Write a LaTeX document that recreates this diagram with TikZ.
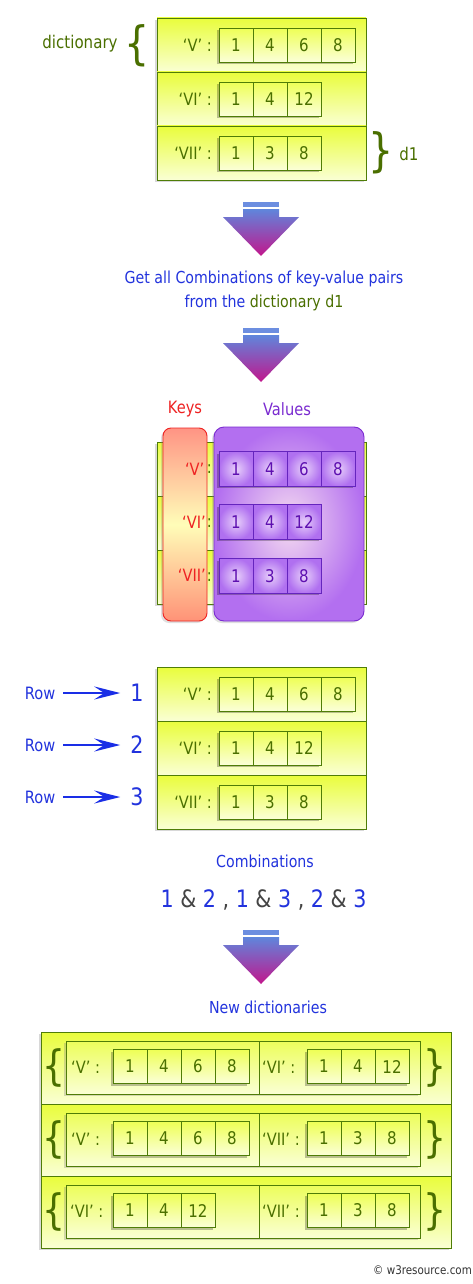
\documentclass[tikz,border=0pt]{standalone}
\usepackage{fontspec}
\setmainfont{DejaVu Sans}[FakeStretch=0.86]
\usetikzlibrary{shadows,calc,arrows.meta}
\definecolor{ytop}{HTML}{E9FD3C}
\definecolor{ybot}{HTML}{FAFFD4}
\definecolor{ctop}{HTML}{EEFF55}
\definecolor{cbot}{HTML}{FBFFD8}
\definecolor{bord}{HTML}{4F7D07}
\definecolor{tgreen}{HTML}{4A6F00}
\definecolor{tblue}{HTML}{2233DD}
\definecolor{arrtop}{HTML}{5F86DC}
\definecolor{arrbot}{HTML}{C2168C}
\definecolor{arrbar}{HTML}{6C8EE0}
\definecolor{kred}{HTML}{EE2222}
\definecolor{ktop}{HTML}{FF9484}
\definecolor{kmid}{HTML}{FFFDB8}
\definecolor{vpurple}{HTML}{7A2BD0}
\definecolor{vin}{HTML}{F5DCF0}
\definecolor{vout}{HTML}{B36FF0}
\definecolor{cpin}{HTML}{E8D0FA}
\definecolor{cpout}{HTML}{B070F0}
\definecolor{cpbord}{HTML}{6525BE}
\definecolor{cptext}{HTML}{5E10B0}
\definecolor{dgray}{HTML}{444444}
\definecolor{rowblue}{HTML}{1A2EE6}
\tikzset{
  fs/.style={font=\fontsize{#1}{#1}\selectfont},
  rowbox/.style={draw=bord, line width=0.8pt, top color=ytop, bottom color=ybot,
    minimum width=209pt, minimum height=54pt, anchor=north west, inner sep=0pt, outer sep=0pt,
    drop shadow={shadow xshift=-2pt, shadow yshift=-2pt, opacity=0.3}},
  cell/.style={draw=bord, line width=0.7pt, top color=ctop, bottom color=cbot,
    minimum width=34pt, minimum height=34pt, inner sep=0pt, outer sep=0pt, anchor=west,
    text=tgreen, fs=17.5},
  pcell/.style={draw=cpbord, line width=0.7pt, inner color=cpin, outer color=cpout,
    minimum width=34pt, minimum height=35pt, inner sep=0pt, outer sep=0pt, anchor=west,
    text=cptext, fs=17.5},
  keylab/.style={anchor=east, inner sep=0pt, text=tgreen, fs=17},
  keylabw/.style={anchor=west, inner sep=0pt, text=tgreen, fs=17},
  brc/.style={inner sep=0pt, text=tgreen, fs=46},
  brcs/.style={inner sep=0pt, text=tgreen, fs=42},
  bluetext/.style={text=tblue, fs=16.5, inner sep=0pt},
  cellshadow/.style={fill=black, opacity=0.25},
  rowarr/.style={draw=rowblue, line width=2.5pt, -{Stealth[length=26pt,width=13pt,inset=10pt]}},
  bigrow/.style={draw=bord, line width=0.8pt, top color=ytop, bottom color=ybot,
    minimum width=410pt, minimum height=72pt, anchor=north west, inner sep=0pt, outer sep=0pt,
    drop shadow={shadow xshift=-2pt, shadow yshift=-2pt, opacity=0.3}},
  inbox/.style={draw=bord, line width=0.8pt, top color=ytop!80!ybot, bottom color=ybot,
    minimum height=53pt, anchor=north west, inner sep=0pt, outer sep=0pt,
    drop shadow={shadow xshift=-2pt, shadow yshift=-2pt, opacity=0.3}},
}
% #1 style, #2 prefix, #3 start coordinate, #4 number of cells, #5 values
\newcommand\mycellrow[5]{%
  \coordinate (#2s) at #3;
  \fill[cellshadow] ($(#2s)+(-2,-15)$) rectangle ($(#2s)+(#4*34-2,19)$);
  \foreach \v [count=\i] in {#5} {\node[#1] (#2\i) at ($(#2s)+(\i*34-34,0)$) {\v};}
}
\newcommand\mydict[3]{%
  \node[rowbox] (#3r1) at (#1,#2) {};
  \node[rowbox] (#3r2) at (#1,#2+54) {};
  \node[rowbox] (#3r3) at (#1,#2+108) {};
  \node[keylab] (#3k1) at ($(#3r1.west)+(55,0)$) {`V' :};
  \node[keylab] (#3k2) at ($(#3r2.west)+(55,0)$) {`VI' :};
  \node[keylab] (#3k3) at ($(#3r3.west)+(55,0)$) {`VII' :};
  \mycellrow{cell}{#3a}{($(#3r1.west)+(62,0)$)}{4}{1,4,6,8}
  \mycellrow{cell}{#3b}{($(#3r2.west)+(62,0)$)}{3}{1,4,12}
  \mycellrow{cell}{#3c}{($(#3r3.west)+(62,0)$)}{3}{1,3,8}
}
\newcommand\mydownarrow[1]{%
  \begin{scope}[shift={(0,#1)}]
    \fill[arrbar] (243,0) rectangle (279,4.5);
    \shade[top color=arrtop, bottom color=arrbot] (243,7) -- (279,7) -- (279,15) -- (299,15)
      -- (261,54) -- (223,15) -- (243,15) -- cycle;
  \end{scope}}
\begin{document}
\begin{tikzpicture}[x=1pt,y=-1pt]
\useasboundingbox[fill=white] (0,0) rectangle (473,1284);

% ---------- top dictionary ----------
\mydict{157}{18}{t}
\node[text=tgreen, fs=17.5, inner sep=0pt] (dictlab) at (80,44) {dictionary};
\node[brc] (tbl) at (137,46) {\{};
\node[brc] (tbr) at (381,153) {\}};
\node[text=tgreen, fs=17.5, inner sep=0pt] (d1) at (409,154) {d1};

% ---------- arrow 1 + text ----------
\mydownarrow{202}
\node[bluetext] (t1) at (264,279) {Get all Combinations of key-value pairs};
\node[bluetext] (t2) at (264,303) {from the \textcolor{tgreen}{dictionary d1}};
\mydownarrow{328}

% ---------- keys / values ----------
\node[rowbox] (br1) at (157,442) {};
\node[rowbox] (br2) at (157,496) {};
\node[rowbox] (br3) at (157,550) {};
\node[keylab] (bc1) at ($(br1.west)+(55,0)$) {:};
\node[keylab] (bc2) at ($(br2.west)+(55,0)$) {:};
\node[keylab] (bc3) at ($(br3.west)+(55,0)$) {:};
\node[draw=kred, line width=0.9pt, rounded corners=8pt, top color=ktop, bottom color=ktop!90!orange,
  middle color=kmid, minimum width=44pt, minimum height=193pt, inner sep=0pt,
  drop shadow={shadow xshift=-2pt, shadow yshift=-2pt, opacity=0.25}] (keys) at (185,524.5) {};
\node[draw=vpurple, line width=0.9pt, rounded corners=10pt, inner color=vin, outer color=vout,
  minimum width=150pt, minimum height=194pt, inner sep=0pt,
  drop shadow={shadow xshift=-2pt, shadow yshift=-2pt, opacity=0.25}] (vals) at (289,524) {};
\node[text=kred, fs=17, inner sep=0pt] (keyst) at (185,409) {Keys};
\node[text=vpurple, fs=17, inner sep=0pt] (valst) at (287,409) {Values};
\node[keylab, text=kred] (rk1) at (204.5,469) {`V'};
\node[keylab, text=kred] (rk2) at (206,522) {`VI'};
\node[keylab, text=kred] (rk3) at (206,575) {`VII'};
\mycellrow{pcell}{pa}{(219,469)}{4}{1,4,6,8}
\mycellrow{pcell}{pb}{(219,522)}{3}{1,4,12}
\mycellrow{pcell}{pc}{(219,576)}{3}{1,3,8}

% ---------- rows ----------
\mydict{157}{667}{r}
\foreach \k/\yy in {1/693,2/745,3/797}{
  \node[text=tblue, fs=17, inner sep=0pt] (rl\k) at (40,\yy) {Row};
  \node[text=tblue, fs=24, inner sep=0pt] (rn\k) at (137,\yy) {\k};
  \draw[rowarr, shorten <=8pt, shorten >=10pt] (rl\k) -- (rn\k);
}

% ---------- combinations ----------
\node[bluetext] (comb) at (265,861) {Combinations};
\node[fs=24, inner sep=0pt] (combs) at (263.5,900) {\textcolor{tblue}{1} \textcolor{dgray}{\&} \textcolor{tblue}{2} \textcolor{dgray}{,} \textcolor{tblue}{1} \textcolor{dgray}{\&} \textcolor{tblue}{3} \textcolor{dgray}{,} \textcolor{tblue}{2} \textcolor{dgray}{\&} \textcolor{tblue}{3}};
\mydownarrow{930}
\node[bluetext] (newd) at (268,1007) {New dictionaries};

% ---------- new dictionaries ----------
\foreach \r/\yy in {1/1032,2/1104,3/1176}{
  \node[bigrow] (nr\r) at (41,\yy) {};
  \node[inbox, minimum width=161pt] (nR\r) at (259,\yy+9) {};
  \node[inbox, minimum width=193pt] (nL\r) at (66,\yy+9) {};
  \node[brcs] (nbl\r) at (54,\yy+36) {\{};
  \node[brcs] (nbr\r) at (435,\yy+36) {\}};
}
\node[keylabw] (l1) at (71,1067.5) {`V' :};
\mycellrow{cell}{na}{(113,1066.5)}{4}{1,4,6,8}
\node[keylabw] (m1) at (262,1067.5) {`VI' :};
\mycellrow{cell}{nb}{(307,1066.5)}{3}{1,4,12}
\node[keylabw] (l2) at (71,1139.5) {`V' :};
\mycellrow{cell}{nc}{(113,1138.5)}{4}{1,4,6,8}
\node[keylabw] (m2) at (262,1139.5) {`VII' :};
\mycellrow{cell}{nd}{(307,1138.5)}{3}{1,3,8}
\node[keylabw] (l3) at (70,1211.5) {`VI' :};
\mycellrow{cell}{ne}{(113,1210.5)}{3}{1,4,12}
\node[keylabw] (m3) at (262,1211.5) {`VII' :};
\mycellrow{cell}{nf}{(307,1210.5)}{3}{1,3,8}

% ---------- footer ----------
\node[anchor=east, inner sep=0pt, fs=12, text=black!80] (foot) at (472,1270) {© w3resource.com};
\end{tikzpicture}
\end{document}
